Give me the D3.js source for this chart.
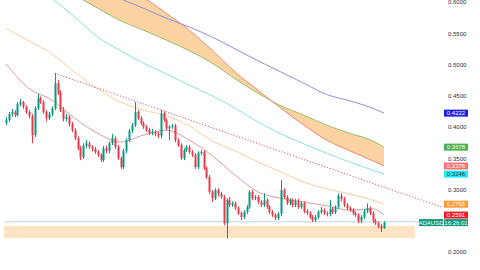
<!DOCTYPE html>
<html>
<head>
<meta charset="utf-8">
<script src="https://cdn.jsdelivr.net/npm/d3@7"></script>
<style>
  body { margin: 0; background: #fff; }
  svg { display: block; font-family: "Liberation Sans", Arial, sans-serif; }
</style>
</head>
<body>
<div id="chart"></div>
<script>
// ADAUSD candles (open of each bar = previous close)
var firstOpen = 0.406;
var closes = [
  0.411,0.421,0.424,0.419,0.437,0.440,0.432,0.424,0.418,0.387,
  0.430,0.446,0.440,0.424,0.414,0.421,0.430,0.470,0.454,0.427,
  0.413,0.416,0.405,0.395,0.382,0.366,0.352,0.370,0.374,0.368,
  0.365,0.360,0.355,0.347,0.366,0.362,0.374,0.382,0.368,0.350,
  0.336,0.362,0.379,0.394,0.403,0.424,0.414,0.406,0.400,0.395,
  0.390,0.392,0.389,0.386,0.422,0.411,0.398,0.400,0.402,0.379,
  0.371,0.350,0.363,0.368,0.360,0.355,0.336,0.358,0.360,0.334,
  0.320,0.296,0.286,0.299,0.293,0.288,0.246,0.283,0.275,0.278,
  0.270,0.262,0.256,0.264,0.272,0.296,0.286,0.288,0.280,0.275,
  0.283,0.272,0.264,0.259,0.254,0.261,0.299,0.288,0.278,0.283,
  0.275,0.281,0.272,0.278,0.265,0.262,0.256,0.251,0.256,0.264,
  0.267,0.262,0.261,0.269,0.264,0.272,0.290,0.285,0.275,0.270,
  0.267,0.262,0.259,0.250,0.256,0.265,0.270,0.262,0.250,0.246,
  0.241,0.238,0.247];
var highs = [
  0.416,0.424,0.429,0.427,0.440,0.445,0.442,0.435,0.427,0.421,
  0.433,0.453,0.449,0.443,0.427,0.424,0.433,0.486,0.475,0.459,
  0.432,0.421,0.419,0.408,0.398,0.385,0.370,0.374,0.379,0.377,
  0.371,0.368,0.363,0.358,0.370,0.370,0.377,0.389,0.385,0.371,
  0.353,0.365,0.382,0.397,0.406,0.440,0.427,0.417,0.409,0.403,
  0.398,0.397,0.395,0.393,0.427,0.425,0.414,0.403,0.405,0.405,
  0.382,0.374,0.366,0.371,0.371,0.363,0.358,0.361,0.363,0.363,
  0.337,0.323,0.299,0.302,0.302,0.296,0.291,0.286,0.288,0.281,
  0.281,0.273,0.265,0.267,0.275,0.299,0.299,0.291,0.291,0.283,
  0.294,0.286,0.275,0.267,0.262,0.264,0.315,0.302,0.291,0.286,
  0.286,0.285,0.285,0.281,0.281,0.269,0.265,0.259,0.259,0.267,
  0.272,0.270,0.265,0.283,0.272,0.275,0.294,0.294,0.288,0.278,
  0.273,0.270,0.265,0.262,0.259,0.269,0.278,0.273,0.265,0.253,
  0.249,0.245,0.249];
var lows = [
  0.403,0.408,0.417,0.416,0.417,0.433,0.429,0.421,0.414,0.374,
  0.384,0.427,0.437,0.421,0.409,0.411,0.417,0.427,0.451,0.424,
  0.409,0.409,0.401,0.392,0.379,0.363,0.347,0.349,0.366,0.365,
  0.361,0.357,0.352,0.344,0.344,0.358,0.358,0.371,0.365,0.347,
  0.333,0.333,0.358,0.376,0.390,0.400,0.411,0.403,0.397,0.392,
  0.387,0.387,0.385,0.382,0.382,0.408,0.395,0.379,0.397,0.376,
  0.368,0.347,0.347,0.360,0.357,0.352,0.333,0.333,0.355,0.331,
  0.317,0.293,0.280,0.283,0.289,0.285,0.243,0.222,0.272,0.272,
  0.267,0.259,0.251,0.253,0.261,0.269,0.283,0.283,0.277,0.272,
  0.272,0.269,0.261,0.256,0.251,0.251,0.257,0.285,0.275,0.275,
  0.272,0.272,0.269,0.269,0.262,0.259,0.253,0.248,0.248,0.253,
  0.261,0.259,0.257,0.257,0.261,0.261,0.269,0.281,0.272,0.267,
  0.264,0.259,0.256,0.246,0.246,0.253,0.262,0.259,0.246,0.243,
  0.238,0.232,0.237];

// indicator lines, read at every 8th bar (and the last one)
var lineIdx   = [0, 8, 16, 24, 32, 40, 48, 56, 64, 72, 80, 88, 96, 104, 112, 120, 128, 132];
var maFast    = [0.501,0.462,0.443,0.414,0.390,0.376,0.387,0.395,0.379,0.354,0.323,0.296,0.286,0.280,0.274,0.267,0.269,0.2591];
var maMid     = [0.558,0.538,0.517,0.488,0.461,0.440,0.427,0.418,0.402,0.378,0.362,0.344,0.328,0.312,0.301,0.293,0.283,0.2765];
var maSlow    = [0.669,0.637,0.606,0.576,0.544,0.522,0.502,0.485,0.467,0.450,0.430,0.408,0.389,0.373,0.358,0.344,0.331,0.3246];
var maLong    = [0.677,0.662,0.648,0.634,0.619,0.605,0.590,0.574,0.560,0.544,0.525,0.506,0.488,0.470,0.452,0.442,0.430,0.4222];
var cloudA    = [0.674,0.653,0.632,0.611,0.590,0.570,0.555,0.539,0.522,0.502,0.477,0.454,0.434,0.419,0.403,0.390,0.378,0.3678];
var cloudB    = [0.762,0.736,0.710,0.685,0.659,0.634,0.608,0.582,0.555,0.523,0.488,0.459,0.430,0.403,0.379,0.362,0.346,0.3376];

// dotted trend line: bar index and price of both ends
var trendIdx = [17, 152];
var trendPrice = [0.486, 0.272];

// support zone and horizontal line
var zoneTop = 0.2416, zoneBottom = 0.2224;
var priceLine = 0.2485;

// 0.2500 sits under the symbol tag in the reference, so it is not drawn
var tickValues = [0.20, 0.30, 0.35, 0.40, 0.45, 0.50, 0.55, 0.60];
var symbol = "ADAUSD", clock = "16:26:01";

var width = 480, height = 270;

var svg = d3.select("#chart")
  .append("svg")
  .attr("width", width)
  .attr("height", height);

var x = d3.scaleLinear().domain([0, 132]).range([6, 384]);
var y = d3.scaleLinear().domain([0.2, 0.6]).range([252, 2]);

var bars = closes.map(function(c, i) {
  return { i: i, o: i == 0 ? firstOpen : closes[i - 1], c: c, h: highs[i], l: lows[i] };
});

var up = "#089981", down = "#f23645";

// zone + horizontal line
svg.append("rect")
  .attr("x", 4).attr("width", 411)
  .attr("y", y(zoneTop))
  .attr("height", y(zoneBottom) - y(zoneTop))
  .attr("fill", "#fde3c3");

svg.append("line")
  .attr("x1", 4).attr("x2", 419)
  .attr("y1", y(priceLine)).attr("y2", y(priceLine))
  .attr("stroke", "#cfe4e8").attr("stroke-width", 1.5);

// cloud fill between the two lines
var cloud = lineIdx.map(function(d, i) { return { i: d, a: cloudA[i], b: cloudB[i] }; });

svg.append("path")
  .datum(cloud)
  .attr("fill", "#fbd3a3")
  .attr("d", d3.area()
    .curve(d3.curveMonotoneX)
    .x(function(d) { return x(d.i); })
    .y0(function(d) { return y(d.a); })
    .y1(function(d) { return y(d.b); }));

function drawLine(values, color) {
  var pts = lineIdx.map(function(d, i) { return [d, values[i]]; });
  svg.append("path")
    .datum(pts)
    .attr("fill", "none")
    .attr("stroke", color)
    .attr("stroke-width", 1)
    .attr("d", d3.line()
      .curve(d3.curveMonotoneX)
      .x(function(d) { return x(d[0]); })
      .y(function(d) { return y(d[1]); }));
}

drawLine(cloudA, "#97c06a");
drawLine(cloudB, "#ea8a76");
drawLine(maLong, "#8e8fe0");
drawLine(maSlow, "#86e3d6");
drawLine(maMid, "#f4cf9f");
drawLine(maFast, "#df9a98");

// trend line
svg.append("line")
  .attr("x1", x(trendIdx[0])).attr("y1", y(trendPrice[0]))
  .attr("x2", x(trendIdx[1])).attr("y2", y(trendPrice[1]))
  .attr("stroke", "#d9737f")
  .attr("stroke-width", 1.2)
  .attr("stroke-dasharray", "1.2,1.8");

// candles
var candle = svg.selectAll(".candle")
  .data(bars)
  .enter().append("g")
  .attr("class", "candle");

candle.append("line")
  .attr("x1", function(d) { return Math.round(x(d.i)) + 0.5; })
  .attr("x2", function(d) { return Math.round(x(d.i)) + 0.5; })
  .attr("y1", function(d) { return y(d.h); })
  .attr("y2", function(d) { return y(d.l); })
  .attr("stroke", function(d) { return d.c >= d.o ? up : down; })
  .attr("stroke-width", 1);

candle.append("rect")
  .attr("x", function(d) { return Math.round(x(d.i)) - 0.5; })
  .attr("width", 2)
  .attr("y", function(d) { return y(Math.max(d.o, d.c)); })
  .attr("height", function(d) { return Math.max(1, Math.abs(y(d.o) - y(d.c))); })
  .attr("fill", function(d) { return d.c >= d.o ? up : down; });

// price scale
var axis = svg.append("g")
  .attr("transform", "translate(447,0)")
  .call(d3.axisRight(y).tickValues(tickValues).tickSize(0).tickFormat(d3.format(".4f")));

axis.select(".domain").remove();
axis.selectAll("text")
  .attr("x", 1)
  .attr("fill", "#2a2e39")
  .style("font-size", "6px")
  .style("font-family", "Liberation Sans, Arial, sans-serif");

// last value tags
var tags = [
  { v: maLong[maLong.length - 1], bg: "#1f1fe0", fg: "#fff" },
  { v: cloudA[cloudA.length - 1], bg: "#4caf50", fg: "#fff" },
  { v: cloudB[cloudB.length - 1], bg: "#f77373", fg: "#fff" },
  { v: maSlow[maSlow.length - 1], bg: "#1de9f6", fg: "#333" },
  { v: maMid[maMid.length - 1], bg: "#ff9a2e", fg: "#fff" },
  { v: maFast[maFast.length - 1], bg: "#ee1c25", fg: "#fff" }
];

function tag(x0, w, v, bg, fg, label) {
  svg.append("rect")
    .attr("x", x0).attr("width", w)
    .attr("y", y(v) - 3.5).attr("height", 7)
    .attr("fill", bg);
  svg.append("text")
    .attr("x", x0 + w / 2).attr("y", y(v))
    .attr("dy", "0.35em")
    .attr("text-anchor", "middle")
    .attr("fill", fg)
    .style("font-size", "6px")
    .text(label);
}

tags.forEach(function(t) {
  tag(444, 24, t.v, t.bg, t.fg, d3.format(".4f")(t.v));
});

var last = closes[closes.length - 1];
tag(419, 24, last, "#089981", "#fff", symbol);
tag(444, 24, last, "#089981", "#fff", clock);
</script>
</body>
</html>
